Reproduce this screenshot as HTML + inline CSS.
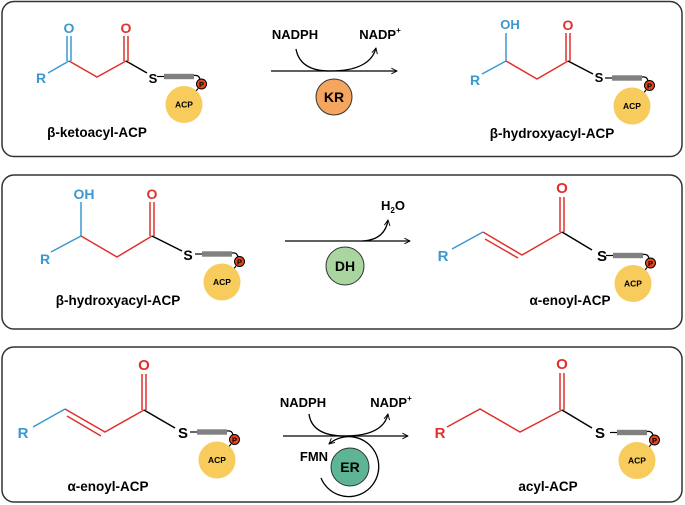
<!DOCTYPE html>
<html><head><meta charset="utf-8"><style>
html,body{margin:0;padding:0;background:#fff;}
svg{display:block;}
text{font-family:"Liberation Sans",sans-serif;}
</style></head><body>
<svg width="685" height="505" viewBox="0 0 685 505" xmlns="http://www.w3.org/2000/svg">
<defs>
<marker id="ah" viewBox="0 0 10 10" refX="9" refY="5" markerWidth="7" markerHeight="7" orient="auto-start-reverse" markerUnits="userSpaceOnUse">
<path d="M1,1 L9,5 L1,9" fill="none" stroke="#000" stroke-width="1.3"/>
</marker>
<g id="tail">
<!-- origin at rod start (left, centre y) -->
<line x1="-7" y1="0" x2="0" y2="0" stroke="#000" stroke-width="1.2"/>
<rect x="0" y="-2.7" width="30" height="5.4" fill="#808080"/>
<path d="M30,-1 Q35,-2 36,3" fill="none" stroke="#000" stroke-width="1.2"/>
<line x1="34" y1="12" x2="31" y2="16" stroke="#000" stroke-width="1.2"/>
<circle cx="37.5" cy="7.5" r="5" fill="#e8451c" stroke="#000" stroke-width="1"/>
<text x="37.5" y="10.3" font-size="7.5" font-weight="bold" text-anchor="middle" fill="#000">P</text>
<circle cx="20" cy="28" r="18.5" fill="#f8cc5c"/>
<text x="20" y="31" font-size="8.5" font-weight="bold" text-anchor="middle" fill="#000">ACP</text>
</g>
</defs>

<!-- panels -->
<rect x="2" y="1.5" width="680" height="155" rx="12" fill="none" stroke="#333" stroke-width="1.5"/>
<rect x="2" y="175" width="680" height="154" rx="12" fill="none" stroke="#333" stroke-width="1.5"/>
<rect x="2" y="347" width="680" height="155" rx="12" fill="none" stroke="#333" stroke-width="1.5"/>

<g font-weight="bold" font-size="14" text-anchor="middle">
<!-- ===== Panel 1 left: beta-ketoacyl ===== -->
<g stroke-width="1.5" fill="none">
<line x1="48" y1="73" x2="69" y2="61" stroke="#3a98d0"/>
<line x1="67" y1="36" x2="67" y2="61" stroke="#3a98d0"/>
<line x1="71" y1="36" x2="71" y2="61" stroke="#3a98d0"/>
<polyline points="69,61 97,77 126,61" stroke="#e0302c"/>
<line x1="124" y1="36" x2="124" y2="61" stroke="#e0302c"/>
<line x1="128" y1="36" x2="128" y2="61" stroke="#e0302c"/>
<line x1="126" y1="61" x2="147" y2="73" stroke="#000"/>
</g>
<text x="41" y="83" fill="#3a98d0">R</text>
<text x="69" y="33" fill="#3a98d0">O</text>
<text x="126" y="33" fill="#e0302c">O</text>
<text x="153" y="83" fill="#000" font-size="13">S</text>
<use href="#tail" x="164" y="76.5"/>
<text x="97" y="137" fill="#000" font-size="13.5">β-ketoacyl-ACP</text>

<!-- arrow KR -->
<line x1="271" y1="71" x2="397" y2="71" stroke="#000" stroke-width="1.3" marker-end="url(#ah)"/>
<path d="M296,49 Q300,71 330,71 Q370,71 376,48" fill="none" stroke="#000" stroke-width="1.3" marker-end="url(#ah)"/>
<text x="295" y="39" fill="#000" font-size="13">NADPH</text>
<text x="380" y="39" fill="#000" font-size="13">NADP<tspan font-size="8" dy="-6">+</tspan></text>
<circle cx="334" cy="97" r="18" fill="#f4a55e" stroke="#333" stroke-width="1"/>
<text x="334" y="102" fill="#000" font-size="14">KR</text>

<!-- Panel 1 right: beta-hydroxyacyl -->
<g stroke-width="1.5" fill="none">
<line x1="482" y1="74" x2="506" y2="61" stroke="#3a98d0"/>
<line x1="506" y1="33" x2="506" y2="61" stroke="#3a98d0"/>
<polyline points="506,61 537,79 568,61" stroke="#e0302c"/>
<line x1="566" y1="33" x2="566" y2="61" stroke="#e0302c"/>
<line x1="570" y1="33" x2="570" y2="61" stroke="#e0302c"/>
<line x1="568" y1="61" x2="593" y2="74" stroke="#000"/>
</g>
<text x="475" y="85" fill="#3a98d0">R</text>
<text x="510" y="29" fill="#3a98d0" font-size="13">OH</text>
<text x="568" y="30" fill="#e0302c">O</text>
<text x="599" y="82" fill="#000" font-size="13">S</text>
<use href="#tail" x="612" y="78"/>
<text x="552" y="138" fill="#000" font-size="13.5">β-hydroxyacyl-ACP</text>

<!-- ===== Panel 2 left ===== -->
<g stroke-width="1.5" fill="none">
<line x1="51" y1="252" x2="81" y2="236" stroke="#3a98d0"/>
<line x1="81" y1="202" x2="81" y2="236" stroke="#3a98d0"/>
<polyline points="81,236 117,257 152,236" stroke="#e0302c"/>
<line x1="150" y1="202" x2="150" y2="236" stroke="#e0302c"/>
<line x1="154" y1="202" x2="154" y2="236" stroke="#e0302c"/>
<line x1="152" y1="236" x2="182" y2="251" stroke="#000"/>
</g>
<text x="45" y="264" fill="#3a98d0">R</text>
<text x="84" y="199" fill="#3a98d0">OH</text>
<text x="152" y="199" fill="#e0302c">O</text>
<text x="188" y="260" fill="#000">S</text>
<use href="#tail" x="202" y="254"/>
<text x="118" y="305" fill="#000" font-size="13.5">β-hydroxyacyl-ACP</text>

<!-- arrow DH -->
<line x1="285" y1="241" x2="410" y2="241" stroke="#000" stroke-width="1.3" marker-end="url(#ah)"/>
<path d="M362,241 Q385,240 388,220" fill="none" stroke="#000" stroke-width="1.3" marker-end="url(#ah)"/>
<text x="393" y="210" fill="#000" font-size="13">H<tspan font-size="8" dy="3">2</tspan><tspan dy="-3">O</tspan></text>
<circle cx="345" cy="266" r="19" fill="#a8d5a0" stroke="#333" stroke-width="1"/>
<text x="345" y="271" fill="#000" font-size="14">DH</text>

<!-- Panel 2 right: enoyl -->
<g stroke-width="1.5" fill="none">
<line x1="452" y1="249" x2="483" y2="232" stroke="#3a98d0"/>
<polyline points="483,232 522,255 562,232" stroke="#e0302c"/>
<line x1="485" y1="239" x2="518" y2="258" stroke="#e0302c"/>
<line x1="560" y1="197" x2="560" y2="232" stroke="#e0302c"/>
<line x1="564" y1="197" x2="564" y2="232" stroke="#e0302c"/>
<line x1="562" y1="232" x2="592" y2="250" stroke="#000"/>
</g>
<text x="443" y="261" fill="#3a98d0" font-size="15">R</text>
<text x="562" y="193" fill="#e0302c" font-size="15">O</text>
<text x="602" y="261" fill="#000" font-size="15">S</text>
<use href="#tail" x="613" y="255.5"/>
<text x="570" y="305" fill="#000" font-size="13.5">α-enoyl-ACP</text>

<!-- ===== Panel 3 left: enoyl ===== -->
<g stroke-width="1.5" fill="none">
<line x1="33" y1="427" x2="65" y2="409" stroke="#3a98d0"/>
<polyline points="65,409 105,432 144,410" stroke="#e0302c"/>
<line x1="67" y1="416" x2="101" y2="436" stroke="#e0302c"/>
<line x1="142" y1="374" x2="142" y2="410" stroke="#e0302c"/>
<line x1="146" y1="374" x2="146" y2="410" stroke="#e0302c"/>
<line x1="144" y1="410" x2="175" y2="428" stroke="#000"/>
</g>
<text x="23" y="438" fill="#3a98d0" font-size="15">R</text>
<text x="144" y="370" fill="#e0302c" font-size="15">O</text>
<text x="183" y="438" fill="#000" font-size="15">S</text>
<use href="#tail" x="197" y="432"/>
<text x="108" y="491" fill="#000" font-size="13.5">α-enoyl-ACP</text>

<!-- arrow ER -->
<line x1="283" y1="436" x2="408" y2="436" stroke="#000" stroke-width="1.3" marker-end="url(#ah)"/>
<path d="M309,414 Q312,436 345,436 Q383,436 388,414" fill="none" stroke="#000" stroke-width="1.3" marker-end="url(#ah)"/>
<path d="M321,478 A30,30 0 1 0 329,444" fill="none" stroke="#000" stroke-width="1.3" marker-end="url(#ah)"/>
<text x="303" y="407" fill="#000" font-size="13">NADPH</text>
<text x="391" y="407" fill="#000" font-size="13">NADP<tspan font-size="8" dy="-6">+</tspan></text>
<text x="314" y="461" fill="#000" font-size="13">FMN</text>
<circle cx="350" cy="467" r="19" fill="#5db593" stroke="#333" stroke-width="1"/>
<text x="350" y="472" fill="#000" font-size="14">ER</text>

<!-- Panel 3 right: acyl -->
<g stroke-width="1.5" fill="none">
<polyline points="447,427 480,409 520,432 562,410" stroke="#e0302c"/>
<line x1="560" y1="373" x2="560" y2="410" stroke="#e0302c"/>
<line x1="564" y1="373" x2="564" y2="410" stroke="#e0302c"/>
<line x1="562" y1="410" x2="592" y2="428" stroke="#000"/>
</g>
<text x="440" y="438" fill="#e0302c" font-size="15">R</text>
<text x="562" y="369" fill="#e0302c" font-size="15">O</text>
<text x="600" y="438" fill="#000" font-size="15">S</text>
<use href="#tail" x="617" y="432.5"/>
<text x="548" y="491" fill="#000" font-size="13.5">acyl-ACP</text>
</g>
</svg>
</body></html>
